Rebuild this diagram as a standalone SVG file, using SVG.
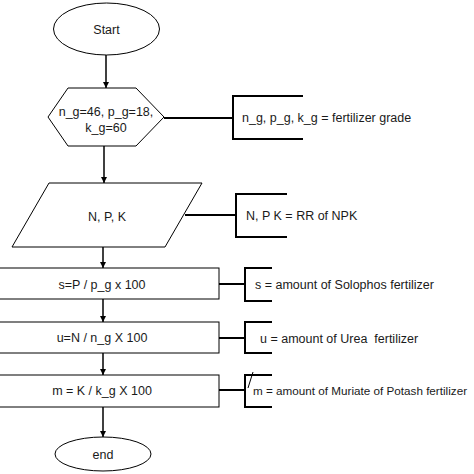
<svg xmlns="http://www.w3.org/2000/svg" width="474" height="474" viewBox="0 0 474 474">
<defs>
<marker id="ah" viewBox="0 0 10 10" refX="10" refY="5" markerWidth="6" markerHeight="6" markerUnits="userSpaceOnUse" orient="auto"><path d="M0,0 L10,5 L0,10 Z" fill="#000"/></marker>
<style>
.sh{fill:#fff;stroke:#000;stroke-width:1}
.t{font-family:"Liberation Sans",Arial,sans-serif;font-size:12.5px;fill:#1a1a1a;white-space:pre}
.c{text-anchor:middle}
.ar{stroke:#000;stroke-width:1.5;fill:none;marker-end:url(#ah)}
.ln{stroke:#000;stroke-width:2;fill:none}
</style>
</defs>
<rect width="474" height="474" fill="#fff"/>
<g id="connectors">
<line class="ar" x1="106" y1="55" x2="106" y2="88"/>
<line class="ar" x1="104" y1="146" x2="104" y2="183"/>
<line class="ar" x1="103" y1="247" x2="103" y2="268"/>
<line class="ar" x1="103" y1="299" x2="103" y2="322"/>
<line class="ar" x1="103" y1="353" x2="103" y2="375"/>
<line class="ar" x1="103" y1="407" x2="103" y2="437"/>
<line class="ln" x1="164" y1="118" x2="233" y2="118"/>
<line class="ln" x1="185" y1="215" x2="236" y2="215"/>
<line class="ln" x1="219" y1="284" x2="245" y2="284"/>
<line class="ln" x1="219" y1="338" x2="245" y2="338"/>
<line class="ln" x1="219" y1="390" x2="245" y2="390"/>
</g>
<g id="start"><ellipse class="sh" cx="106.5" cy="29" rx="53" ry="26"/><text class="t c" x="106.5" y="34">Start</text></g>
<g id="grades"><polygon class="sh" points="48,117 68,88 136,88 164,117 136,146 68,146"/><text class="t c" x="106" y="116">n_g=46, p_g=18,</text><text class="t c" x="106" y="132">k_g=60</text></g>
<g id="input"><polygon class="sh" points="49,183 202,183 165,247 12,247"/><text class="t c" x="107" y="221">N, P, K</text></g>
<g id="calc-s"><rect class="sh" x="-1" y="268" width="220" height="31"/><text class="t c" x="102" y="289">s=P / p_g x 100</text></g>
<g id="calc-u"><rect class="sh" x="-1" y="322" width="220" height="31"/><text class="t c" x="102" y="342">u=N / n_g X 100</text></g>
<g id="calc-m"><rect class="sh" x="-1" y="375" width="220" height="32"/><text class="t c" x="102" y="395">m = K / k_g X 100</text></g>
<g id="end"><ellipse class="sh" cx="103" cy="454" rx="48" ry="17"/><text class="t c" x="103" y="459">end</text></g>
<g id="note-grade"><path class="ln" d="M303,96 H233 V139 H303"/><text class="t" x="242" y="122">n_g, p_g, k_g = fertilizer grade</text></g>
<g id="note-npk"><path class="ln" d="M287,194 H236 V237 H287"/><text class="t" x="246" y="220">N, P K = RR of NPK</text></g>
<g id="note-s"><path class="ln" d="M272,268 H245 V301 H272"/><text class="t" x="255" y="289">s = amount of Solophos fertilizer</text></g>
<g id="note-u"><path class="ln" d="M272,322 H245 V353 H272"/><text class="t" x="260" y="343">u = amount of Urea  fertilizer</text></g>
<g id="note-m"><path class="ln" d="M272,375 H245 V407 H272"/><line x1="248" y1="388" x2="253" y2="372" stroke="#000" stroke-width="1"/><text class="t" x="253" y="395" style="font-size:11.7px">m = amount of Muriate of Potash fertilizer</text></g>
</svg>
